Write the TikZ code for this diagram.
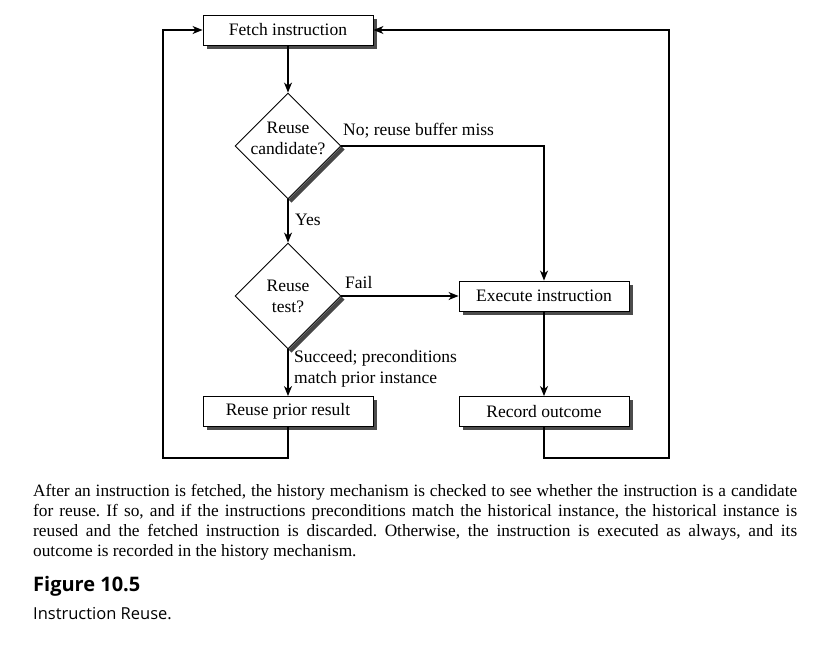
\documentclass[tikz,border=0pt]{standalone}
\usepackage{fontspec}
\setmainfont{Liberation Serif}
\newfontfamily\figfont{Open Sans}
\usetikzlibrary{positioning, arrows.meta, shapes.geometric, shadows}
\frenchspacing

\begin{document}
\begin{tikzpicture}[x=1pt,y=-1pt,font=\fontsize{17.5}{21}\selectfont,
  box/.style={draw,fill=white,line width=0.9pt,minimum width=170pt,minimum height=30pt,inner sep=0pt,
    drop shadow={shadow xshift=3.5pt,shadow yshift=-3.5pt,fill=black!70,opacity=1}},
  decision/.style={draw,diamond,fill=white,line width=0.9pt,minimum width=106pt,minimum height=106pt,inner sep=0pt},
  dshadow/.style={line width=4.5pt,black!72},
  flow/.style={line width=1.2pt,-{Stealth[length=10pt,width=8pt,inset=3pt]}},
  lbl/.style={inner sep=0pt}]

\useasboundingbox (0,0) rectangle (825,648);

% Steps
\node[box] (fetch) at (288,30) {Fetch instruction};
\node[box] (exec) at (544,296) {Execute instruction};
\node[box] (reuse) at (288,411.5) {Reuse prior result};
\node[box] (record) at (544,411.5) {Record outcome};

% Decisions
\coordinate (candc) at (288,146);
\coordinate (testc) at (288,296);
\draw[dshadow] ([shift={(53,0)}]candc) ++(2,2) -- ++(-53,53);
\draw[dshadow] ([shift={(53,0)}]testc) ++(2,2) -- ++(-53,53);
\node[decision] (cand) at (candc) {};
\node[decision] (test) at (testc) {};
\node[lbl,align=center] (candtxt) at (288,138) {Reuse\\candidate?};
\node[lbl,align=center] (testtxt) at (288,296) {Reuse\\test?};

% Loop corners
\coordinate (lcorner) at (163,458);
\coordinate (rcorner) at (669,458);

% Flow
\draw[flow] (fetch) -- (cand);
\draw[flow] (cand) -- (test);
\draw[flow] (test) -- (reuse);
\draw[flow] (cand.east) -| (exec.north);
\draw[flow] (test.east) -- (exec.west);
\draw[flow] (exec) -- (record);
\draw[flow] (reuse.south) |- (lcorner) |- (fetch.west);
\draw[flow] (record.south) |- (rcorner) |- (fetch.east);

% Branch labels
\node[lbl,anchor=base west] (nolbl) at (343,135) {No; reuse buffer miss};
\node[lbl,anchor=base west] (yeslbl) at (295,225) {Yes};
\node[lbl,anchor=base west] (faillbl) at (345,288) {Fail};
\node[lbl,anchor=west,align=left] (oklbl) at (294,369) {Succeed; preconditions\\match prior instance};

% Caption
\node[lbl,anchor=north west,text width=764pt,align=justify,font=\fontsize{17.3}{20}\selectfont] (cap) at (33,484)
  {After an instruction is fetched, the history mechanism is checked to see whether the instruction is a candidate\linebreak
   for reuse. If so, and if the instructions preconditions match the historical instance, the historical instance is\linebreak
   reused and the fetched instruction is discarded. Otherwise, the instruction is executed as always, and its\linebreak
   outcome is recorded in the history mechanism.};
\node[lbl,anchor=base west,font=\figfont\bfseries\fontsize{20}{24}\selectfont] (fignum) at (33,591) {Figure 10.5};
\node[lbl,anchor=base west,font=\figfont\fontsize{16.5}{20}\selectfont] (figtitle) at (33,619) {Instruction Reuse.};

\end{tikzpicture}
\end{document}
